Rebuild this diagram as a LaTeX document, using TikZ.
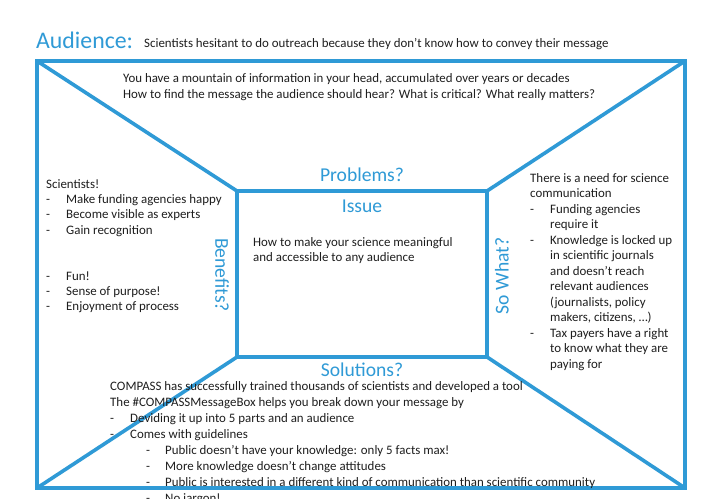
\documentclass[tikz,border=0pt]{standalone}
\usepackage{fontspec}
\setmainfont{Carlito}
\definecolor{boxblue}{HTML}{2F9AD6}
\definecolor{txt}{HTML}{1E1E1E}
\newcommand\myitem[1]{\makebox[20pt][l]{-}#1}
\newcommand\mycont[1]{\hspace*{20pt}#1}
\newcommand\firstline{\rule{0pt}{11pt}}
\begin{document}
\begin{tikzpicture}[x=1pt,y=-1pt,
  boxline/.style={draw=boxblue,line width=3.6pt,line join=miter},
  head/.style={text=boxblue,font=\fontsize{19.6}{22}\selectfont,inner sep=0pt},
  body/.style={text=txt,font=\fontsize{12.9}{15.5}\selectfont,inner sep=0pt,align=left,anchor=north west},
  bodyl/.style={body,font=\fontsize{12.9}{15.3}\selectfont},
  bodyb/.style={body,font=\fontsize{12.9}{16}\selectfont}]
\useasboundingbox (0,0) rectangle (720,498);
\fill[white] (0,0) rectangle (720,498);
% corners
\coordinate (OTL) at (37,61);
\coordinate (OTR) at (685,61);
\coordinate (OBR) at (685,488);
\coordinate (OBL) at (37,488);
\coordinate (ITL) at (237,191);
\coordinate (ITR) at (487,191);
\coordinate (IBR) at (487,357);
\coordinate (IBL) at (237,357);
% frame
\draw[boxline] (OTL) -- (OTR) -- (OBR) -- (OBL) -- cycle;
\draw[boxline] (ITL) -- (ITR) -- (IBR) -- (IBL) -- cycle;
\draw[boxline] (OTL) -- (ITL);
\draw[boxline] (OTR) -- (ITR);
\draw[boxline] (OBL) -- (IBL);
\draw[boxline] (OBR) -- (IBR);
% header
\node[head,font=\fontsize{23.8}{26}\selectfont,anchor=base west] (aud) at (36,48) {Audience:};
\node[body,anchor=base west] (audsub) at (144,47) {Scientists hesitant to do outreach because they don’t know how to convey their message};
% top
\node[body,font=\fontsize{12.9}{16}\selectfont] (top) at (123,71) {\firstline You have a mountain of information in your head, accumulated over years or decades\\
How to find the message the audience should hear? What is critical? What really matters?};
% centre
\node[head,anchor=base] (prob) at (362,181) {Problems?};
\node[head,anchor=base] (issue) at (362,212) {Issue};
\node[body] (issuetxt) at (253,235) {\firstline How to make your science meaningful\\
and accessible to any audience};
\node[head,anchor=base] (sol) at (362,376) {Solutions?};
\node[head,rotate=-90] (ben) at (222,275) {Benefits?};
\node[head,rotate=90] (sowhat) at (502,276) {So What?};
% left
\node[bodyl] (left) at (46,177) {\firstline Scientists!\\
\myitem{Make funding agencies happy}\\
\myitem{Become visible as experts}\\
\myitem{Gain recognition}\\[30.6pt]
\myitem{Fun!}\\
\myitem{Sense of purpose!}\\
\myitem{Enjoyment of process}};
% right
\node[body] (right) at (530,171) {\firstline There is a need for science\\
communication\\
\myitem{Funding agencies}\\
\mycont{require it}\\
\myitem{Knowledge is locked up}\\
\mycont{in scientific journals}\\
\mycont{and doesn’t reach}\\
\mycont{relevant audiences}\\
\mycont{(journalists, policy}\\
\mycont{makers, citizens, …)}\\
\myitem{Tax payers have a right}\\
\mycont{to know what they are}\\
\mycont{paying for}};
% bottom
\node[bodyb] (bottom) at (110,379) {\firstline COMPASS has successfully trained thousands of scientists and developed a tool\\
The \#COMPASSMessageBox helps you break down your message by\\
\myitem{Deviding it up into 5 parts and an audience}\\
\myitem{Comes with guidelines}\\
\hspace*{36pt}\makebox[19pt][l]{-}Public doesn’t have your knowledge: only 5 facts max!\\
\hspace*{36pt}\makebox[19pt][l]{-}More knowledge doesn’t change attitudes\\
\hspace*{36pt}\makebox[19pt][l]{-}Public is interested in a different kind of communication than scientific community\\
\hspace*{36pt}\makebox[19pt][l]{-}No jargon!};
\end{tikzpicture}
\end{document}
